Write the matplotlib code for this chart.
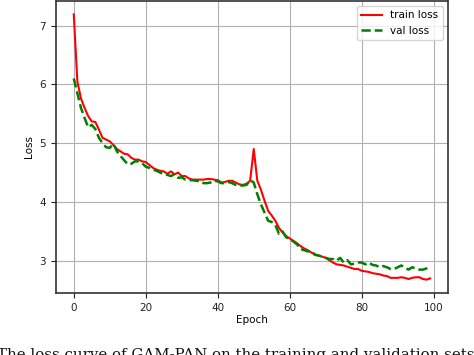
import numpy as np
import matplotlib.pyplot as plt

epochs = list(range(100))

train_loss = [7.19, 6.05, 5.76, 5.60, 5.46, 5.37, 5.36, 5.23, 5.09, 5.06,
              5.03, 4.97, 4.90, 4.86, 4.82, 4.81, 4.75, 4.72, 4.72, 4.69,
              4.68, 4.63, 4.58, 4.55, 4.53, 4.52, 4.48, 4.52, 4.47, 4.50,
              4.44, 4.44, 4.40, 4.38, 4.38, 4.38, 4.38, 4.39, 4.39, 4.38,
              4.37, 4.33, 4.34, 4.36, 4.36, 4.33, 4.30, 4.29, 4.31, 4.36,
              4.90, 4.36, 4.21, 4.02, 3.85, 3.77, 3.68, 3.56, 3.48, 3.42,
              3.38, 3.34, 3.30, 3.25, 3.21, 3.18, 3.14, 3.11, 3.09, 3.07,
              3.05, 3.01, 2.97, 2.94, 2.93, 2.92, 2.90, 2.88, 2.86, 2.86,
              2.83, 2.82, 2.81, 2.79, 2.78, 2.77, 2.75, 2.74, 2.71, 2.71,
              2.71, 2.72, 2.71, 2.69, 2.71, 2.72, 2.72, 2.69, 2.68, 2.70]

val_loss = [6.10, 5.85, 5.60, 5.43, 5.27, 5.31, 5.24, 5.09, 5.00, 4.93,
            4.92, 4.99, 4.86, 4.78, 4.71, 4.64, 4.65, 4.69, 4.69, 4.66,
            4.60, 4.58, 4.55, 4.53, 4.50, 4.47, 4.46, 4.44, 4.47, 4.41,
            4.42, 4.38, 4.37, 4.37, 4.36, 4.35, 4.32, 4.32, 4.33, 4.36,
            4.35, 4.32, 4.32, 4.34, 4.32, 4.29, 4.28, 4.28, 4.29, 4.37,
            4.33, 4.13, 3.96, 3.82, 3.68, 3.66, 3.61, 3.46, 3.50, 3.40,
            3.36, 3.33, 3.28, 3.20, 3.18, 3.16, 3.17, 3.10, 3.09, 3.07,
            3.05, 3.03, 3.03, 3.00, 3.05, 2.97, 3.01, 2.94, 2.95, 2.97,
            2.97, 2.94, 2.97, 2.93, 2.92, 2.89, 2.91, 2.89, 2.86, 2.86,
            2.89, 2.92, 2.88, 2.85, 2.89, 2.87, 2.85, 2.85, 2.87, 2.89]

fig = plt.figure(figsize=(4.74, 3.55), dpi=100)
ax = fig.add_axes([0.118, 0.175, 0.827, 0.822])

ax.plot(epochs, train_loss, color='red', lw=1.5, label='train loss')
ax.plot(epochs, val_loss, color='green', lw=1.8, ls='--', label='val loss')

ax.grid(True, color='#b0b0b0', lw=0.8)
ax.set_xticks([0, 20, 40, 60, 80, 100])
ax.set_yticks([3, 4, 5, 6, 7])
ax.tick_params(labelsize=7.5, colors='#222222')
for s in ax.spines.values():
    s.set_color('#333333')
    s.set_linewidth(1.2)
ax.set_xlabel('Epoch', fontsize=7.5, labelpad=2)
ax.set_ylabel('Loss', fontsize=7.5, labelpad=4)
ax.legend(loc='upper right', fontsize=7.5, framealpha=0.8)

# caption of the paper figure, cut off at the bottom like in the source
fig.text(-0.006, -0.011, 'The loss curve of GAM-PAN on the training and validation sets',
         family='DejaVu Serif', fontsize=10.8, va='baseline', ha='left', color='#111111')

fig.savefig('out.png', dpi=100)
